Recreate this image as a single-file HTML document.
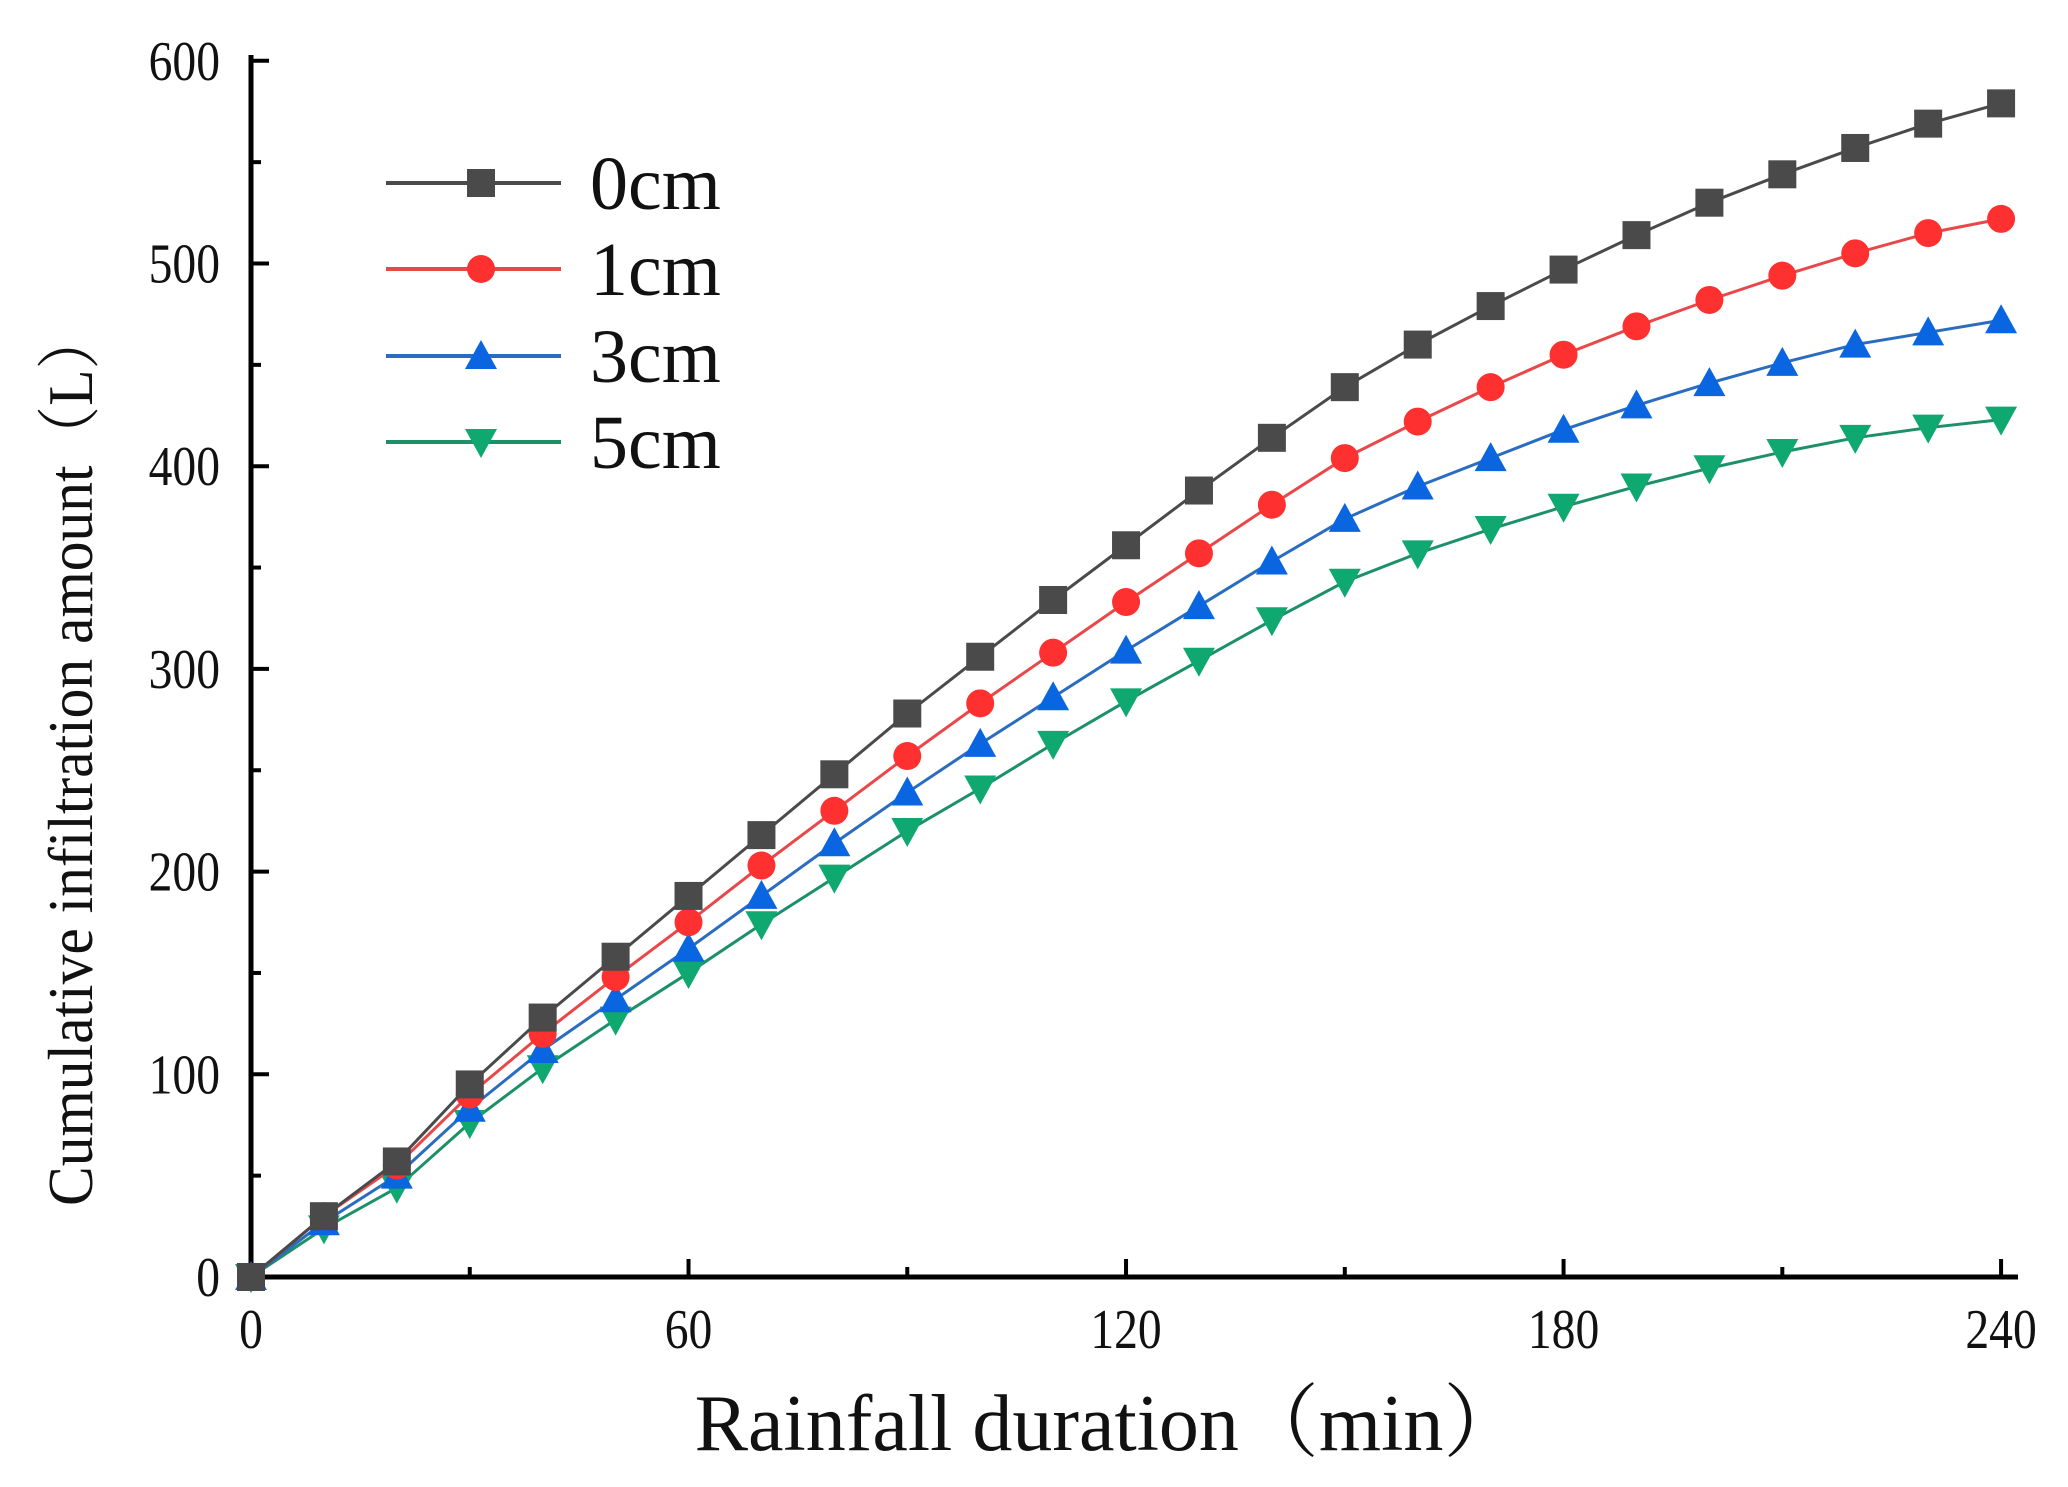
<!DOCTYPE html>
<html><head><meta charset="utf-8"><style>
html,body{margin:0;padding:0;background:#fff;}
svg{display:block;}
text{font-family:"Liberation Serif","Noto Serif CJK SC",serif;fill:#111;}
</style></head><body>
<svg id="s" width="2068" height="1487" viewBox="0 0 2068 1487" xmlns="http://www.w3.org/2000/svg">
<g id="ax" stroke="#000" stroke-width="5" fill="none"></g>
<g id="series"></g>
<g id="lbl"></g>
<text x="72" y="758" font-size="64" text-anchor="middle" transform="rotate(-90 72 758) translate(72 758) scale(0.93 1) translate(-72 -758)" dy="20">Cumulative infiltration amount（L）</text>
<text x="1109" y="1450" font-size="80" text-anchor="middle" transform="translate(1109 0) scale(1.0 1) translate(-1109 0)">Rainfall duration（min）</text>
</svg>
<script>
var NS="http://www.w3.org/2000/svg",s=document.getElementById('s');
function el(p,t,a,txt){var e=document.createElementNS(NS,t);for(var k in a)e.setAttribute(k,a[k]);if(txt!==undefined)e.textContent=txt;p.appendChild(e);return e;}
var X0=251,Y0=1277,XS=7.292,YS=2.027;
function px(x){return X0+x*XS} function py(y){return Y0-y*YS}
var ax=document.getElementById('ax'),lbl=document.getElementById('lbl');
el(ax,'line',{x1:X0,y1:55,x2:X0,y2:Y0+3});
el(ax,'line',{x1:X0-3,y1:Y0,x2:2018,y2:Y0});
for(var v=0;v<=600;v+=50){var y=py(v),L=v%100==0?18:10;el(ax,'line',{x1:X0,y1:y,x2:X0+L,y2:y,'stroke-width':4});
 if(v%100==0){el(lbl,'text',{x:220,y:y+19,'font-size':56,'text-anchor':'end',transform:'translate(220 0) scale(0.85 1) translate(-220 0)'},v);}}
for(var v=0;v<=240;v+=30){var x=px(v),L=v%60==0?18:10;el(ax,'line',{x1:x,y1:Y0,x2:x,y2:Y0-L,'stroke-width':4});
 if(v%60==0){el(lbl,'text',{x:x,y:1348,'font-size':56,'text-anchor':'middle',transform:'translate('+x+' 0) scale(0.85 1) translate('+(-x)+' 0)'},v);}}
var D=[
["0cm","#4a4a4a","#4a4a4a","sq",[0,30,57,95,128,158,188,218,248,278,306,334,361,388,414,439,460,479,497,514,530,544,557,569,579]],
["1cm","#e8484a","#ff3030","ci",[0,30,55,90,120,148,175,203,230,257,283,308,333,357,381,404,422,439,455,469,482,494,505,515,522]],
["3cm","#2a6cc0","#0a66e0","up",[0,27,50,83,112,137,162,188,214,239,263,286,309,331,353,374,390,404,418,430,441,451,460,466,472]],
["5cm","#1d9068","#0ea870","dn",[0,24,44,76,103,127,150,174,197,220,241,263,284,304,324,343,357,369,380,390,399,407,414,419,423]]];
function mk(g,t,x,y,c){
 if(t=="sq")el(g,'rect',{x:x-14,y:y-14,width:28,height:28,fill:c});
 else if(t=="ci")el(g,'circle',{cx:x,cy:y,r:14,fill:c});
 else if(t=="up")el(g,'polygon',{points:(x-16)+','+(y+13)+' '+(x+16)+','+(y+13)+' '+x+','+(y-16),fill:c});
 else el(g,'polygon',{points:(x-16)+','+(y-13)+' '+(x+16)+','+(y-13)+' '+x+','+(y+16),fill:c});}
var g=document.getElementById('series');
D.slice().reverse().forEach(function(d){var pts=d[4].map(function(v,i){return px(i*10)+','+py(v)}).join(' ');
 el(g,'polyline',{points:pts,fill:'none',stroke:d[1],'stroke-width':3});
 d[4].forEach(function(v,i){mk(g,d[3],px(i*10),py(v),d[2]);});});
var LY=[183,269,356,442];
D.forEach(function(d,i){var y=LY[i];el(g,'line',{x1:386,y1:y,x2:561,y2:y,stroke:d[1],'stroke-width':4});mk(g,d[3],481,y,d[2]);
 el(lbl,'text',{x:590,y:y+26,'font-size':76},d[0]);});
</script>
</body></html>
